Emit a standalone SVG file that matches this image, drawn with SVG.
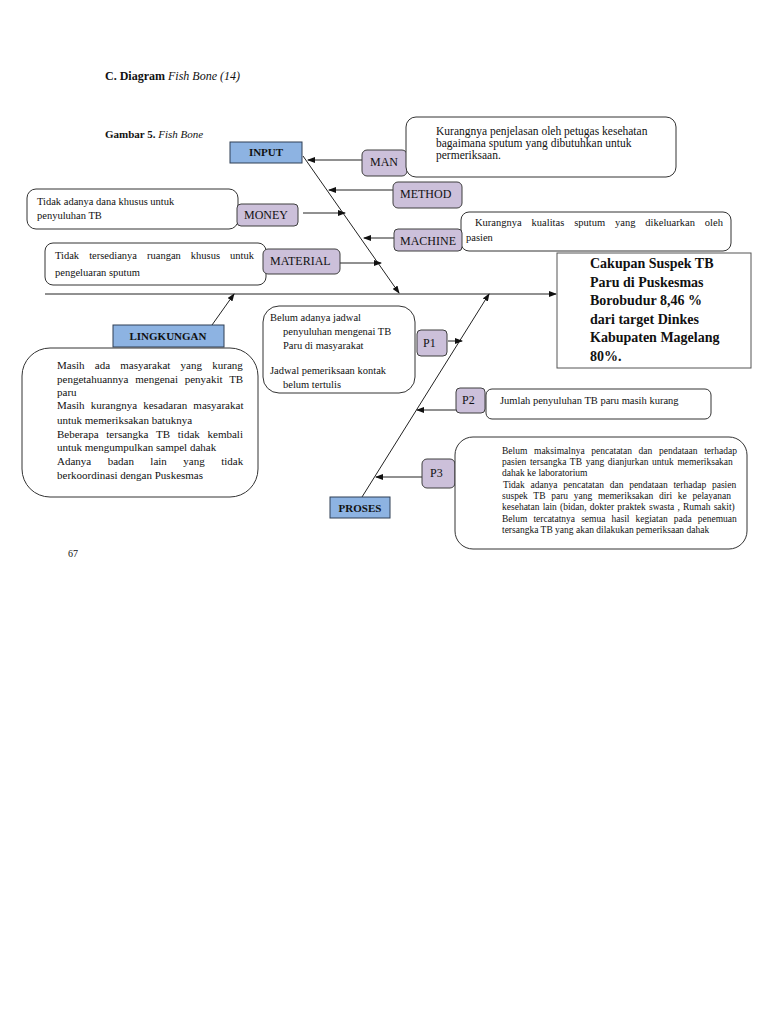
<svg xmlns="http://www.w3.org/2000/svg" width="768" height="1024" viewBox="0 0 768 1024">
<style>
text{font-family:"Liberation Serif","Times New Roman",serif;fill:#111}
.box{fill:#fff;stroke:#333;stroke-width:1}
.lab{fill:#ccc0da;stroke:#3f3f3f;stroke-width:1}
.cat{fill:#8db3e2;stroke:#2f3f55;stroke-width:1}
.ln{stroke:#222;stroke-width:1;fill:none}
.lt{font-size:12px}
.ct{font-size:11px;font-weight:bold;text-anchor:middle}
</style>
<defs>
<marker id="ah" markerWidth="8" markerHeight="6" refX="7" refY="3" orient="auto" markerUnits="userSpaceOnUse">
<path d="M0,0 L8,3 L0,6 Z" fill="#111"/>
</marker>
</defs>
<rect width="768" height="1024" fill="#fff"/>
<g id="title">
<text x="105" y="80" font-size="12"><tspan font-weight="bold">C.  Diagram </tspan><tspan font-style="italic">Fish Bone (14)</tspan></text>
<text x="105" y="138" font-size="11"><tspan font-weight="bold">Gambar 5. </tspan><tspan font-style="italic">Fish Bone</tspan></text>
<text x="68" y="557" font-size="10">67</text>
</g>
<g id="connectors">
<line class="ln" x1="45" y1="294" x2="556" y2="294" marker-end="url(#ah)"/>
<line class="ln" x1="303" y1="156" x2="399" y2="293" marker-end="url(#ah)"/>
<line class="ln" x1="362" y1="160" x2="308" y2="160" marker-end="url(#ah)"/>
<line class="ln" x1="393" y1="190" x2="329" y2="190" marker-end="url(#ah)"/>
<line class="ln" x1="303" y1="213" x2="345" y2="213" marker-end="url(#ah)"/>
<line class="ln" x1="394" y1="238" x2="364" y2="238" marker-end="url(#ah)"/>
<line class="ln" x1="340" y1="263" x2="381" y2="263" marker-end="url(#ah)"/>
<line class="ln" x1="212" y1="325" x2="234" y2="294" marker-end="url(#ah)"/>
<line class="ln" x1="362" y1="497" x2="489" y2="294" marker-end="url(#ah)"/>
<line class="ln" x1="448" y1="341" x2="462" y2="341" marker-end="url(#ah)"/>
<line class="ln" x1="456" y1="410" x2="417" y2="410" marker-end="url(#ah)"/>
<line class="ln" x1="422" y1="477" x2="376" y2="477" marker-end="url(#ah)"/>
</g>
<g id="input">
<rect class="cat" x="230" y="142" width="72" height="21"/>
<text class="ct" x="266" y="156">INPUT</text>
</g>
<g id="man">
<rect class="lab" x="362" y="150" width="45" height="26" rx="5"/>
<text class="lt" x="370" y="166">MAN</text>
</g>
<g id="man-desc">
<rect class="box" x="406" y="117" width="270" height="60" rx="10"/>
<text font-size="11.5"><tspan x="436" y="135">Kurangnya penjelasan oleh petugas kesehatan</tspan><tspan x="436" y="147">bagaimana sputum yang dibutuhkan untuk</tspan><tspan x="436" y="159">permeriksaan.</tspan></text>
</g>
<g id="method">
<rect class="lab" x="393" y="182" width="69" height="26" rx="5"/>
<text class="lt" x="400" y="198">METHOD</text>
</g>
<g id="money-desc">
<rect class="box" x="27" y="189" width="211" height="40" rx="9"/>
<text font-size="10.5"><tspan x="37" y="205">Tidak adanya dana khusus untuk</tspan><tspan x="37" y="219">penyuluhan TB</tspan></text>
</g>
<g id="money">
<rect class="lab" x="237" y="204" width="61" height="22" rx="4"/>
<text class="lt" x="244" y="219">MONEY</text>
</g>
<g id="machine-desc">
<rect class="box" x="461" y="212" width="270" height="39" rx="8"/>
<text font-size="10.5"><tspan x="475" y="226" word-spacing="7.3">Kurangnya kualitas sputum yang dikeluarkan oleh</tspan><tspan x="466" y="241">pasien</tspan></text>
</g>
<g id="machine">
<rect class="lab" x="394" y="229" width="68" height="22" rx="4"/>
<text class="lt" x="400" y="245">MACHINE</text>
</g>
<g id="material-desc">
<rect class="box" x="45" y="243" width="221" height="42" rx="8"/>
<text font-size="10.5"><tspan x="55" y="259" word-spacing="7.4">Tidak tersedianya ruangan khusus untuk</tspan><tspan x="55" y="276">pengeluaran sputum</tspan></text>
</g>
<g id="material">
<rect class="lab" x="263" y="249" width="77" height="25" rx="5"/>
<text class="lt" x="270" y="265">MATERIAL</text>
</g>
<g id="effect">
<rect fill="#fff" stroke="#555" stroke-width="1" x="557" y="253" width="194" height="115"/>
<text font-size="14" font-weight="bold"><tspan x="590" y="268">Cakupan Suspek TB</tspan><tspan x="590" y="287">Paru  di Puskesmas</tspan><tspan x="590" y="305">Borobudur 8,46 %</tspan><tspan x="590" y="324">dari target  Dinkes</tspan><tspan x="590" y="342">Kabupaten Magelang</tspan><tspan x="590" y="361">80%.</tspan></text>
</g>
<g id="lingkungan">
<rect class="cat" x="113" y="325" width="111" height="22"/>
<text class="ct" x="168" y="340">LINGKUNGAN</text>
</g>
<g id="lingkungan-desc">
<rect class="box" x="22" y="348" width="236" height="149" rx="28"/>
<text font-size="11"><tspan x="57" y="369" word-spacing="7.5">Masih ada masyarakat yang kurang</tspan><tspan x="57" y="383" word-spacing="4">pengetahuannya mengenai penyakit TB</tspan><tspan x="57" y="396">paru</tspan><tspan x="57" y="409" word-spacing="3.4">Masih kurangnya kesadaran masyarakat</tspan><tspan x="57" y="424">untuk  memeriksakan batuknya</tspan><tspan x="57" y="438" word-spacing="5">Beberapa tersangka TB tidak kembali</tspan><tspan x="57" y="451">untuk mengumpulkan sampel dahak</tspan><tspan x="57" y="465" word-spacing="13.7">Adanya badan lain yang tidak</tspan><tspan x="57" y="479">berkoordinasi dengan Puskesmas</tspan></text>
</g>
<g id="p1-desc">
<rect class="box" x="263" y="306" width="152" height="87" rx="16"/>
<text font-size="10.5"><tspan x="270" y="321">Belum adanya jadwal</tspan><tspan x="283" y="335">penyuluhan mengenai TB</tspan><tspan x="283" y="349">Paru di masyarakat</tspan><tspan x="270" y="374">Jadwal pemeriksaan kontak</tspan><tspan x="283" y="388">belum tertulis</tspan></text>
</g>
<g id="p1">
<rect class="lab" x="417" y="330" width="30" height="26" rx="4"/>
<text class="lt" x="423" y="347">P1</text>
</g>
<g id="p2">
<rect class="lab" x="456" y="388" width="29" height="25" rx="4"/>
<text class="lt" x="462" y="404">P2</text>
</g>
<g id="p2-desc">
<rect class="box" x="486" y="389" width="225" height="30" rx="6"/>
<text font-size="10.5" x="500" y="404">Jumlah penyuluhan TB paru masih kurang</text>
</g>
<g id="p3">
<rect class="lab" x="422" y="459" width="33" height="29" rx="5"/>
<text class="lt" x="430" y="477">P3</text>
</g>
<g id="p3-desc">
<rect class="box" x="455" y="437" width="292" height="112" rx="18"/>
<text font-size="9.5"><tspan x="502" y="454" word-spacing="4.3">Belum maksimalnya pencatatan dan pendataan terhadap</tspan><tspan x="502" y="465" word-spacing="1.3">pasien tersangka  TB yang dianjurkan untuk memeriksakan</tspan><tspan x="502" y="476">dahak ke laboratorium</tspan><tspan x="503" y="488" word-spacing="3.4">Tidak adanya pencatatan dan pendataan terhadap pasien</tspan><tspan x="502" y="499" word-spacing="3.3">suspek  TB paru yang memeriksakan diri ke pelayanan</tspan><tspan x="502" y="510" word-spacing="0.8">kesehatan lain (bidan, dokter praktek swasta , Rumah sakit)</tspan><tspan x="502" y="522" word-spacing="3.7">Belum tercatatnya semua hasil kegiatan pada penemuan</tspan><tspan x="502" y="533">tersangka  TB yang akan dilakukan pemeriksaan dahak</tspan></text>
</g>
<g id="proses">
<rect class="cat" x="330" y="497" width="60" height="21"/>
<text class="ct" x="360" y="512">PROSES</text>
</g>
</svg>
